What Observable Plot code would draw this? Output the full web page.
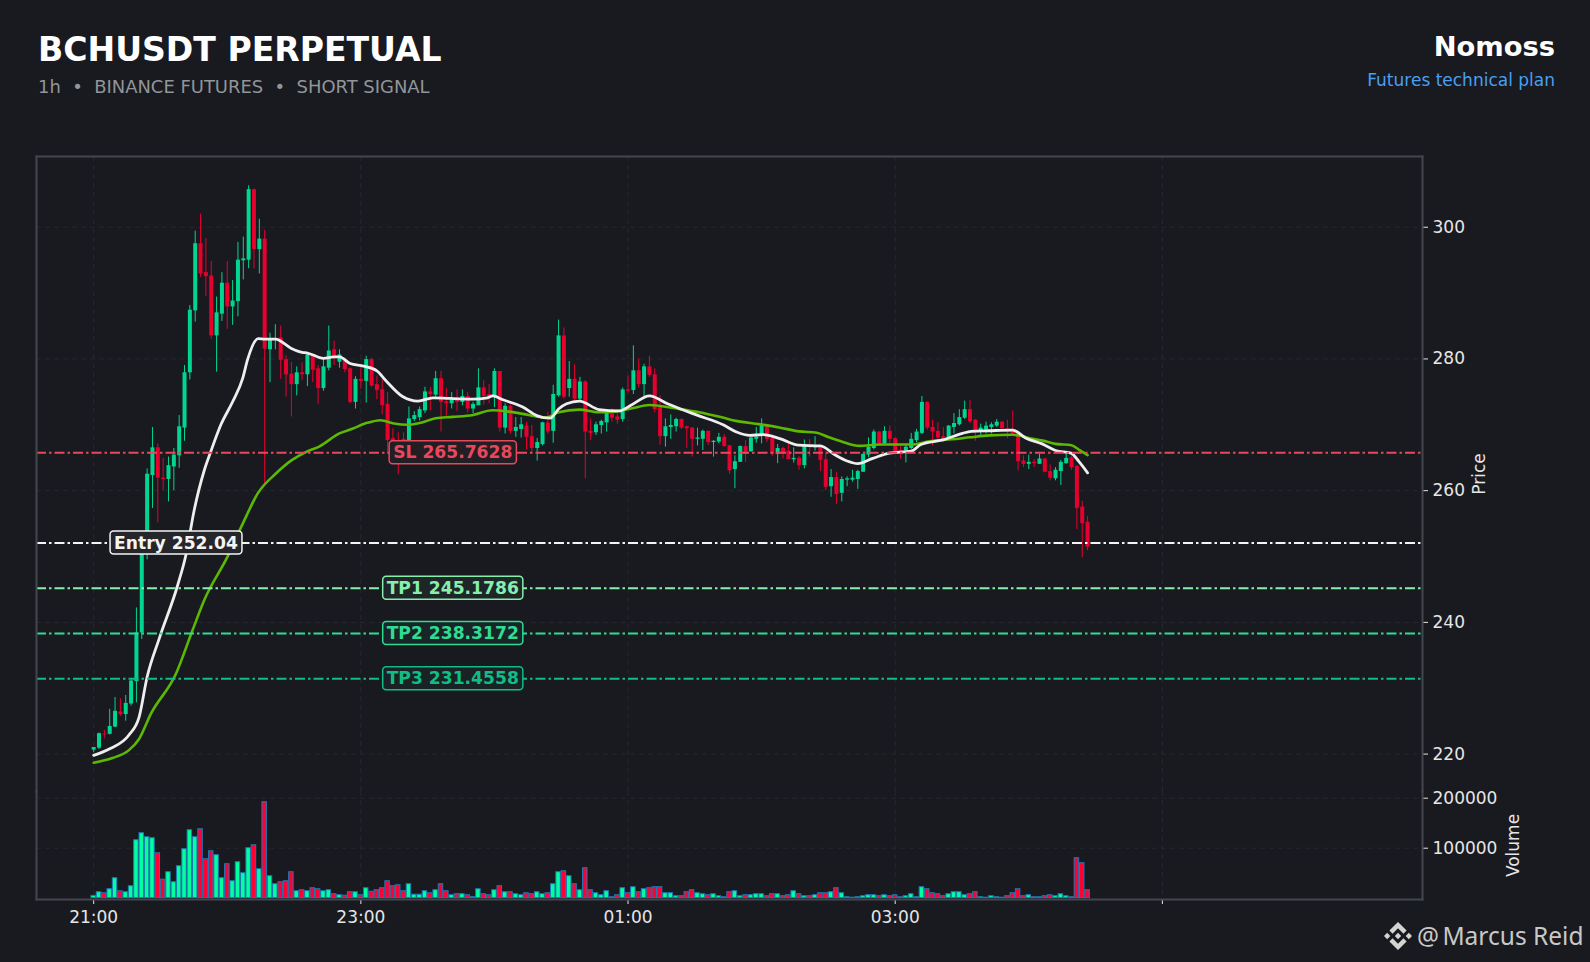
<!DOCTYPE html>
<html>
<head>
<meta charset="utf-8">
<script src="https://cdn.jsdelivr.net/npm/d3@7"></script>
<script src="https://cdn.jsdelivr.net/npm/@observablehq/plot@0.6"></script>
<style>
  html, body { margin: 0; padding: 0; background: #181a20; }
  body { width: 1590px; height: 962px; position: relative; overflow: hidden; font-family: "DejaVu Sans", sans-serif; }
  .abs { position: absolute; white-space: pre; line-height: 1; }
  #title { left: 38px; top: 33px; font-size: 33.1px; font-weight: 700; color: #ffffff; }
  #subtitle { left: 38px; top: 77.5px; font-size: 17.95px; color: #929599; }
  #brand { right: 35px; top: 33px; font-size: 27.3px; font-weight: 700; color: #ffffff; }
  #tagline { right: 35px; top: 72px; font-size: 17px; color: #4a9ff0; }
  #mark { left: 1384px; top: 922px; width: 28px; height: 28px; }
  #watermark { left: 1417px; top: 923.5px; font-family: "Noto Sans", sans-serif; font-size: 24.5px; color: #c8c9c6; }
  #watermark span { margin-left: -3px; }
  #pricePanel { position: absolute; left: 0; top: 150px; }
  #volumePanel { position: absolute; left: 0; top: 791px; }
  svg { background: transparent !important; overflow: visible; }
</style>
</head>
<body>
<div id="title" class="abs">BCHUSDT PERPETUAL</div>
<div id="subtitle" class="abs">1h  •  BINANCE FUTURES  •  SHORT SIGNAL</div>
<div id="brand" class="abs">Nomoss</div>
<div id="tagline" class="abs">Futures technical plan</div>
<div id="pricePanel"></div>
<div id="volumePanel"></div>
<svg id="mark" class="abs" viewBox="0 0 126.61 126.61"><path fill="#d4d5d1" d="M38.73 53.2l24.59-24.58 24.6 24.6 14.3-14.31L63.32 0 24.42 38.9zM0 63.31l14.3-14.31 14.31 14.31-14.31 14.3zM38.73 73.41l24.59 24.59 24.6-24.6 14.31 14.29-38.9 38.91-38.91-38.88zM98 63.31l14.3-14.31 14.31 14.3-14.31 14.32zM77.83 63.3L63.32 48.78 52.59 59.51l-1.24 1.23-2.54 2.54 14.51 14.5 14.5-14.47z"/></svg>
<div id="watermark" class="abs">@<span> Marcus Reid</span></div>
<script>
const opens = [
220.6,220.9,223.0,223.0,224.1,226.4,226.0,227.6,231.0,238.4,
252.0,262.3,266.5,261.9,261.7,263.6,265.3,269.5,277.9,287.3,
297.5,293.1,292.6,283.5,286.8,291.5,287.9,288.7,294.9,295.0,
305.7,296.6,298.2,281.4,283.0,283.2,279.9,277.7,276.1,277.9,
277.6,280.6,278.5,275.5,278.6,281.4,279.5,279.9,278.5,273.4,
276.9,276.6,279.9,276.1,275.3,273.1,267.9,267.3,267.8,267.4,
270.8,271.1,272.1,275.0,274.5,277.0,273.5,273.2,273.8,273.4,
274.3,272.4,272.9,275.6,274.6,274.3,278.1,269.5,272.8,269.0,
269.3,269.8,268.2,266.4,267.0,270.3,269.0,274.4,283.5,275.5,
276.9,273.9,276.5,269.0,268.8,269.9,270.3,271.6,271.2,270.8,
275.3,275.2,278.2,276.1,278.8,277.6,272.7,268.2,269.6,269.7,
270.8,269.7,269.5,267.8,267.8,269.0,267.3,267.4,268.1,266.8,
263.2,264.3,266.7,265.9,267.8,268.4,269.9,268.0,265.5,266.4,
266.0,264.7,264.9,263.8,266.8,266.5,266.6,264.7,260.6,262.0,
259.6,261.6,261.6,261.7,262.8,265.4,266.4,268.9,267.1,269.0,
267.9,266.1,266.0,266.4,267.6,268.7,273.4,269.6,269.0,268.2,
267.9,269.6,270.0,271.0,272.3,270.7,268.9,269.2,269.6,269.8,
270.4,269.4,269.2,268.6,264.5,264.0,264.3,264.0,264.8,262.9,
261.8,262.9,264.1,265.0,263.7,257.5,255.2];
const closes = [
221.0,223.1,222.9,224.2,226.5,226.0,227.7,231.1,238.4,252.0,
262.5,266.5,261.9,261.7,263.8,265.4,269.7,277.9,287.4,297.5,
292.9,292.5,283.5,287.0,291.5,287.9,288.8,295.0,295.2,305.7,
296.6,298.2,281.5,283.0,283.1,279.8,277.6,276.1,277.9,277.6,
280.6,278.3,275.5,278.8,281.2,280.3,280.6,278.4,273.4,276.9,
276.6,279.9,275.9,275.2,272.9,267.6,267.2,266.6,266.5,270.9,
271.4,272.3,275.0,274.6,277.0,273.4,273.2,273.8,273.4,274.3,
272.4,273.1,275.6,274.3,274.3,278.1,269.5,272.8,269.0,269.6,
270.0,268.1,266.4,267.3,270.3,268.9,274.6,283.5,274.2,276.9,
273.9,276.5,268.9,268.7,270.0,270.5,272.0,271.0,270.7,275.3,
275.1,278.2,276.1,278.8,277.5,272.3,268.2,269.7,269.9,270.8,
269.5,269.4,267.8,268.0,269.0,267.3,267.5,268.1,266.7,263.0,
264.4,266.7,265.5,268.0,268.1,270.0,267.8,265.5,266.4,265.6,
264.7,264.9,263.8,266.8,266.5,266.6,264.6,260.5,262.0,259.4,
261.7,261.8,261.9,262.9,265.5,266.6,268.9,267.1,269.0,267.8,
265.9,265.9,266.6,267.8,268.9,273.4,269.5,268.9,268.0,267.7,
269.8,270.2,271.1,272.3,270.5,269.1,269.5,269.8,270.0,270.4,
269.4,268.9,268.6,264.4,264.0,264.3,264.1,264.8,262.8,261.9,
263.1,264.3,264.9,263.5,257.3,255.0,251.4];
const highs = [
221.0,223.2,223.6,226.8,228.6,228.4,228.9,231.3,242.2,252.5,
263.3,269.6,267.1,264.9,265.1,266.4,271.4,279.0,288.1,299.4,
302.0,298.3,294.8,289.4,293.1,294.8,291.9,297.7,298.5,306.3,
305.8,301.2,299.5,283.9,285.2,285.0,280.5,279.5,278.8,279.4,
281.0,280.7,279.0,280.2,285.0,282.7,281.4,280.2,278.6,277.3,
278.7,280.4,280.1,277.4,276.9,274.9,269.4,268.8,268.8,272.7,
272.0,272.7,275.7,275.7,278.1,278.1,275.5,274.9,275.3,275.3,
274.9,273.4,278.5,276.7,276.1,278.5,278.1,273.2,273.0,271.1,
271.1,270.4,269.9,267.9,270.4,271.9,276.0,285.9,284.7,279.6,
279.1,277.2,276.7,270.9,270.4,270.7,272.2,272.4,272.2,275.6,
277.4,282.0,280.0,279.2,280.4,278.5,274.4,270.9,271.5,271.0,
270.9,269.8,269.6,269.5,269.2,269.1,267.6,268.7,268.5,266.9,
265.3,266.8,267.6,268.2,269.6,270.9,270.0,268.2,267.0,266.6,
267.1,266.5,265.2,267.7,267.8,268.2,266.8,265.9,263.2,262.8,
262.1,262.1,263.1,263.1,265.6,268.0,269.2,269.0,269.7,269.8,
268.0,266.7,266.9,268.7,269.3,274.3,273.5,270.7,270.3,269.6,
269.9,271.7,272.3,273.6,273.7,270.8,270.1,270.4,270.3,270.8,
270.5,270.7,272.1,268.7,265.3,265.4,264.7,265.5,264.9,263.9,
263.5,264.6,265.7,265.3,263.8,258.4,256.1];
const lows = [
220.2,220.7,222.3,222.9,224.0,225.7,225.0,227.3,227.8,237.4,
249.5,257.3,255.1,260.0,258.3,260.0,263.4,267.5,276.8,285.6,
292.4,289.5,283.0,278.0,285.7,284.5,285.1,286.4,292.0,293.7,
293.7,292.9,261.0,276.4,281.4,276.9,274.2,271.2,274.4,276.7,
275.8,276.4,273.1,275.1,278.2,279.0,278.6,277.9,273.2,272.4,
275.4,273.3,275.7,273.8,271.5,265.5,266.0,262.4,265.0,266.0,
270.5,270.6,271.7,272.1,274.1,268.9,271.2,272.4,272.0,272.9,
271.8,271.7,272.9,273.0,273.2,272.6,268.9,268.6,268.6,268.1,
268.0,266.2,265.8,264.5,266.8,268.5,267.2,274.2,273.9,274.2,
273.3,273.4,261.8,267.6,268.4,268.6,268.9,270.4,270.1,270.4,
274.8,274.6,275.6,274.2,277.2,271.8,266.9,266.6,267.8,268.9,
269.3,266.4,265.1,266.8,266.1,266.9,265.1,267.1,266.6,262.5,
260.3,264.3,264.3,265.8,267.2,267.1,267.3,265.2,264.1,264.8,
264.7,264.2,263.1,263.3,265.1,266.0,262.9,260.0,259.0,257.9,
258.3,260.6,261.3,260.2,262.8,265.0,266.2,266.9,267.0,267.1,
265.5,264.8,264.2,266.2,267.3,268.5,269.2,266.8,267.5,267.4,
267.7,268.6,269.8,270.8,270.2,267.5,268.4,268.6,268.6,269.6,
269.2,267.9,268.4,263.0,263.5,263.2,263.5,264.0,262.7,261.5,
261.5,260.8,264.0,263.1,254.1,249.8,250.9];
const volumes = [
4700,12000,10000,18000,40000,14000,12000,24000,116000,130000,
122000,120000,90000,37000,52000,32000,64000,98000,136000,122000,
138000,78000,94000,86000,40000,68000,34000,72000,50000,100000,
106000,58000,192000,44000,28000,32000,34000,52000,14000,16000,
14000,20000,18000,14000,16000,8000,6000,5000,12000,12000,
6000,20000,13000,16000,20000,34000,24000,26000,14000,28000,
7000,7000,14000,10000,16000,28000,14000,6000,8000,8000,
6000,2000,18000,8000,6000,16000,24000,12000,12000,8000,
6000,10000,8000,12000,8000,10000,28000,52000,54000,44000,
28000,16000,60000,16000,10000,6000,14000,2000,6000,20000,
10000,22000,12000,18000,20000,22000,22000,10000,10000,4000,
4000,12000,16000,10000,8000,6000,8000,4000,2000,12000,
14000,4000,6000,6000,8000,8000,4000,8000,8000,4000,
6000,14000,8000,4000,4000,6000,10000,10000,12000,20000,
10000,2000,1000,2000,4000,6000,6000,4000,6000,4000,
6000,2000,4000,8000,2000,22000,18000,10000,8000,4000,
8000,12000,12000,6000,8000,12000,2000,1000,4000,2000,
1000,4000,10000,18000,4000,6000,2000,2000,4000,6000,
4000,8000,4000,2000,80000,70000,16000];

const fastBars = [0,3,6.6,8.5,10,12.25,15.7,17.25,18.8,20.7,21.9,23.8,26,27.9,28.8,30.8,32,34,37,39,40,43,45,46,48,50.5,53,54.7,57.8,60.7,63.5,66.5,70.9,73.7,74.7,76.6,80.3,82.9,85.4,87,88.5,90.9,94.6,98.3,100.8,104,107.4,112.8,117.8,120.3,122.8,125.3,128.4,131.9,136,138.8,141,143,145.8,148.9,153,154.8,158.9,162.6,164.2,167.6,172,174.4,177.5,180,182.9,184.4,186];
const fastLine = [219.8,220.8,222.9,225.6,231.7,237.5,245.6,250.2,257,263.1,265.9,270,273.5,277.1,279.9,283.1,283,283,281.6,281,280.9,280.1,280.3,280.3,279.3,278.9,278.2,276.7,274.3,273.6,274.1,274,273.9,274.1,274.4,273.8,272.7,271.4,271,272.4,273.2,273.6,272.3,272.1,273.1,274.4,273.2,271.5,270,268.9,268.4,268.5,267.9,266.9,266.8,265.4,264.5,264.1,264.9,265.7,266,267,267.7,268.7,269,269.1,269.2,268,267.1,266.1,265.7,264.4,262.7];
const slowBars = [0,3.5,6.6,8.5,10.7,15.4,18.5,20.7,25,27.9,30.8,34.1,37,39.8,42.2,46,48.4,51.2,53.7,56.2,58.7,61.6,64,67.2,71,74.6,77.7,81.4,84.6,87,90.9,94.6,97.7,100.8,104,109.5,113.3,117.7,120.2,124.5,128.3,132,135.3,137.6,140.2,143.3,147,153.2,156.4,160.7,164,167.6,172,175,177.6,180,183,184.4,186];
const slowLine = [218.7,219.4,220.6,222.3,226.1,232.2,238.8,243.4,249.9,255,259.7,262.6,264.6,265.9,266.7,268.7,269.4,270.3,270.7,270.2,270,270.4,271,271.2,271.5,272.2,272,271.5,271.1,271.9,272.3,271.9,272,272.5,273,272.4,271.9,271.1,270.6,270.1,269.6,269,268.8,268.1,267.4,266.8,267,267,267.5,267.8,268.1,268.4,268.5,268,267.6,267.1,266.9,266.2,265.4];

const levelNames = ["SL","Entry","TP1","TP2","TP3"];
const levelPrices = [265.7628,252.04,245.1786,238.3172,231.4558];
const levelTexts = ["265.7628","252.04","245.1786","238.3172","231.4558"];
const levelColors = ["#e8485e","#f4f4f4","#86efac","#2fdc93","#10bd84"];
const levelLabelBars = [67.2,15.4,67.2,67.2,67.2];
const xTickBars = [0,50,100,150,200];
const xTickLabels = ["21:00","23:00","01:00","03:00",""];
const priceTicks = [220,240,260,280,300];
const volumeTicks = [100000,200000];

const candles = opens.map((o,i)=>({i,o,c:closes[i],h:highs[i],l:lows[i],v:volumes[i],up:closes[i]>=o}));
const fastRows = fastBars.map((b,k)=>({b,p:fastLine[k]}));
const slowRows = slowBars.map((b,k)=>({b,p:slowLine[k]}));
const levels = levelNames.map((n,k)=>({n,p:levelPrices[k],t:`${n} ${levelTexts[k]}`,color:levelColors[k],bar:levelLabelBars[k]}));

const W = 1590, LEFT = 36, RIGHT = 168;
const xDomain = [-10.7, 248.68];
const gridC = "#25282e", frameC = "#42464e", tickC = "#e6e6e6", font = "DejaVu Sans";
const upC = "#00d68f", downC = "#e6002e";

const tickFmt = d => xTickLabels[xTickBars.indexOf(d)] ?? "";

const pricePlot = Plot.plot({
  width: W, height: 641,
  marginLeft: LEFT, marginRight: RIGHT, marginTop: 6, marginBottom: 0,
  style: {background: "transparent", fontFamily: font, fontSize: "17px", color: tickC},
  x: {domain: xDomain, axis: null},
  y: {domain: [214.32, 310.74], label: null},
  marks: [
    Plot.gridY({ticks: priceTicks, stroke: gridC, strokeOpacity: 1, strokeDasharray: "5,4"}),
    Plot.gridX({ticks: xTickBars, stroke: gridC, strokeOpacity: 1, strokeDasharray: "5,4"}),
    Plot.ruleX(candles, {x: "i", y1: "l", y2: "h", stroke: d => d.up ? upC : downC, strokeWidth: 1}),
    Plot.ruleX(candles, {x: "i", y1: "o", y2: "c", stroke: d => d.up ? upC : downC, strokeWidth: 4}),
    Plot.line(slowRows, {x: "b", y: "p", stroke: "#5cb800", strokeWidth: 2.6, curve: "monotone-x"}),
    Plot.line(fastRows, {x: "b", y: "p", stroke: "#eeeeee", strokeWidth: 2.8, curve: "monotone-x"}),
    Plot.ruleY(levels, {y: "p", stroke: "color", strokeWidth: 2, strokeDasharray: "10,3,2.5,3"}),
    Plot.text(levels, {x: "bar", y: "p", text: "t", fill: "color", fontWeight: 700, fontSize: 17.15, className: "lvl"}),
    Plot.axisY({anchor: "right", ticks: priceTicks, tickSize: 5, tickPadding: 5, stroke: tickC, color: tickC, label: "Price", labelAnchor: "center", labelArrow: "none", labelOffset: 62}),
    Plot.frame({anchor: "top", stroke: frameC, strokeWidth: 2}),
    Plot.frame({anchor: "left", stroke: frameC, strokeWidth: 2}),
    Plot.frame({anchor: "right", stroke: frameC, strokeWidth: 2})
  ]
});

const volumePlot = Plot.plot({
  width: W, height: 150,
  marginLeft: LEFT, marginRight: RIGHT, marginTop: 0, marginBottom: 42,
  style: {background: "transparent", fontFamily: font, fontSize: "17px", color: tickC},
  x: {domain: xDomain, axis: null},
  y: {domain: [-2600, 213400], label: null},
  marks: [
    Plot.gridY({ticks: volumeTicks, stroke: gridC, strokeOpacity: 1, strokeDasharray: "5,4"}),
    Plot.gridX({ticks: xTickBars, stroke: gridC, strokeOpacity: 1, strokeDasharray: "5,4"}),
    Plot.rectY(candles, {x1: d => d.i - 0.42, x2: d => d.i + 0.42, y1: 0, y2: "v", fill: d => d.up ? "#00ff9f" : "#ff0033", stroke: "#1f77b4", strokeWidth: 1}),
    Plot.axisY({anchor: "right", ticks: volumeTicks, tickFormat: "d", tickSize: 5, tickPadding: 5, stroke: tickC, color: tickC, label: "Volume", labelAnchor: "center", labelArrow: "none", labelOffset: 96}),
    Plot.axisX({anchor: "bottom", ticks: xTickBars, tickFormat: tickFmt, tickSize: 5, tickPadding: 6, stroke: tickC, color: tickC, label: null}),
    Plot.frame({anchor: "bottom", stroke: frameC, strokeWidth: 2}),
    Plot.frame({anchor: "left", stroke: frameC, strokeWidth: 2}),
    Plot.frame({anchor: "right", stroke: frameC, strokeWidth: 2})
  ]
});

document.getElementById("pricePanel").appendChild(pricePlot);
document.getElementById("volumePanel").appendChild(volumePlot);

// rounded boxes sized from each label's own rendered text
pricePlot.querySelectorAll("g.lvl text").forEach(t => {
  const b = t.getBBox();
  const c = t.getAttribute("fill");
  const r = document.createElementNS("http://www.w3.org/2000/svg", "rect");
  r.setAttribute("x", b.x - 4);
  r.setAttribute("y", b.y - 1.5);
  r.setAttribute("width", b.width + 8);
  r.setAttribute("height", b.height + 3);
  r.setAttribute("rx", 3.5);
  r.setAttribute("fill", d3.interpolateRgb("#191b21", c)(0.05));
  r.setAttribute("stroke", c);
  r.setAttribute("stroke-width", 1.5);
  if (t.getAttribute("transform")) r.setAttribute("transform", t.getAttribute("transform"));
  t.parentNode.insertBefore(r, t);
});
</script>
</body>
</html>
